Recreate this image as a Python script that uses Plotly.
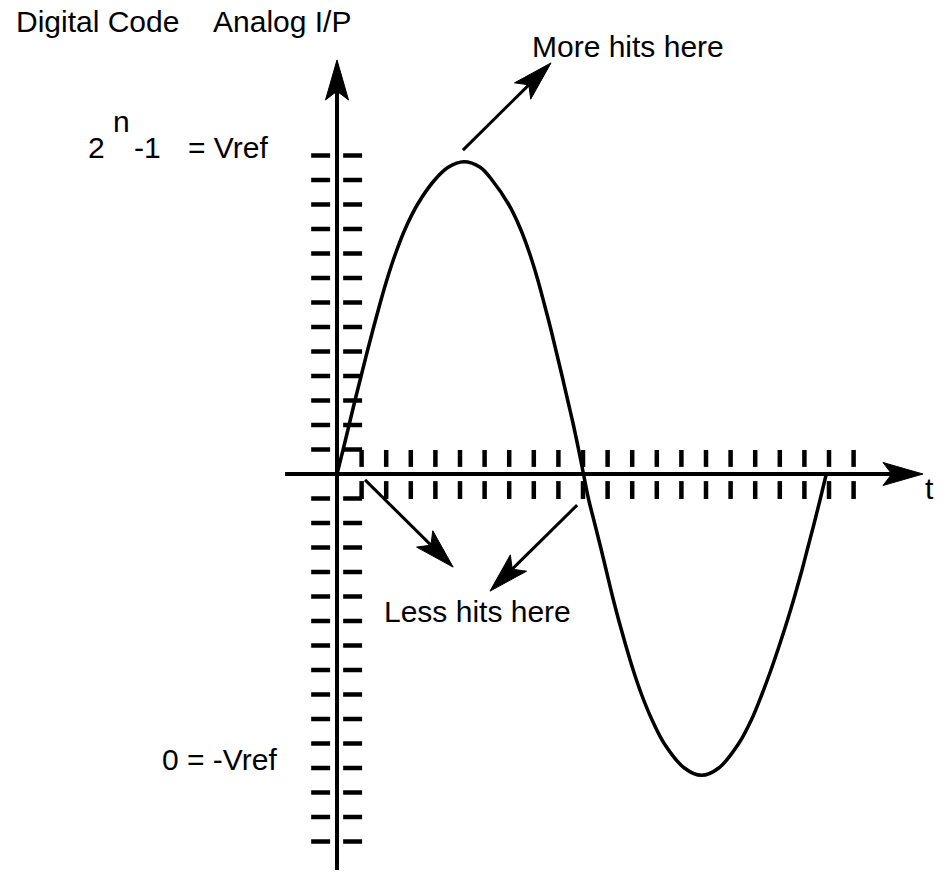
import plotly.graph_objects as go

# analog input: t in sample steps, level in code steps
t_points = [0, 0.25, 0.49, 0.73, 0.98, 1.23, 1.49, 1.76, 2.05, 2.38, 2.77, 3.27, 3.97, 4.52, 5.15,
            5.82, 6.30, 6.98, 7.46, 7.83, 8.14, 8.41, 8.67, 8.91, 9.15, 9.38, 9.61, 9.82, 10.02,
            10.22, 10.47, 10.72, 10.96, 11.20, 11.46, 11.74, 12.04, 12.38, 12.79, 13.30, 14.12, 14.82,
            15.52, 16.33, 16.86, 17.27, 17.64, 17.98, 18.30, 18.60, 18.88, 19.14, 19.40, 19.65, 19.89]
level_points = [0, 1, 2, 3, 4, 5, 6, 7, 8, 9, 10, 11, 12, 12.52, 12.75,
                12.52, 12, 11, 10, 9, 8, 7, 6, 5, 4, 3, 2, 1, 0,
                -1, -2, -3, -4, -5, -6, -7, -8, -9, -10, -11, -12, -12.3,
                -12, -11, -10, -9, -8, -7, -6, -5, -4, -3, -2, -1, 0]

# sample instants on the t axis and code levels on the vertical axis
sample_ticks = list(range(1, 22))
code_levels = list(range(-15, 0)) + list(range(1, 14))

# pixels per step, used to keep arrow heads in shape
PX_X = 24.6
PX_Y = 24.5

fig = go.Figure()

# sample dashes across the t axis
tx, ty = [], []
for k in sample_ticks:
    tx += [k, k, None, k, k, None]
    ty += [0.29, 0.98, None, -0.29, -1.02, None]
fig.add_trace(go.Scatter(x=tx, y=ty, mode="lines", line=dict(color="black", width=4.5), hoverinfo="skip"))

# code level dashes either side of the vertical axis
cx, cy = [], []
for lv in code_levels:
    cx += [-1.05, -0.28, None, 0.25, 1.02, None]
    cy += [lv, lv, None, lv, lv, None]
fig.add_trace(go.Scatter(x=cx, y=cy, mode="lines", line=dict(color="black", width=4.5), hoverinfo="skip"))

# the analog signal
fig.add_trace(go.Scatter(x=t_points, y=level_points, mode="lines",
                         line=dict(color="black", width=3.5, shape="spline", smoothing=1.0),
                         hoverinfo="skip"))


def arrow(x0, y0, x1, y1, width, head_len=40, head_w=23):
    # head built in pixel space so it does not get squashed
    dx = (x1 - x0) * PX_X
    dy = (y1 - y0) * PX_Y
    d = (dx ** 2 + dy ** 2) ** 0.5
    ux, uy = dx / d, dy / d
    nx, ny = -uy, ux

    def pt(a, b):
        return x1 + (ux * a + nx * b) / PX_X, y1 + (uy * a + ny * b) / PX_Y

    notch = pt(-0.78 * head_len, 0)
    fig.add_trace(go.Scatter(x=[x0, notch[0]], y=[y0, notch[1]], mode="lines",
                             line=dict(color="black", width=width), hoverinfo="skip"))
    pts = [pt(0, 0), pt(-head_len, head_w / 2), notch, pt(-head_len, -head_w / 2), pt(0, 0)]
    fig.add_trace(go.Scatter(x=[p[0] for p in pts], y=[p[1] for p in pts], mode="lines", fill="toself",
                             fillcolor="black", line=dict(color="black", width=1), hoverinfo="skip"))


# axes
arrow(-2.11, 0, 23.82, 0, 4)
arrow(0, -16.16, 0, 16.9, 4)
# pointers
arrow(5.12, 13.22, 8.70, 16.78, 3)
arrow(1.14, -0.24, 4.72, -3.80, 3)
arrow(9.76, -1.27, 6.22, -4.78, 3)

labels = [
    ("Digital Code", -9.72, 18.45),
    ("Analog I/P", -2.24, 18.45),
    ("2", -9.76, 13.31),
    ("n", -8.78, 14.37),
    ("-1", -7.72, 13.31),
    ("= Vref", -4.43, 13.31),
    ("0 = -Vref", -4.76, -11.67),
    ("More hits here", 11.83, 17.43),
    ("Less hits here", 5.73, -5.63),
    ("t", 24.07, -0.61),
]
for text, x, y in labels:
    fig.add_annotation(x=x, y=y, text=text, showarrow=False, xref="x", yref="y",
                       xanchor="center", yanchor="middle",
                       font=dict(family="Liberation Sans, Arial, sans-serif", size=30, color="black"))

fig.update_layout(
    width=950,
    height=884,
    margin=dict(l=0, r=0, t=0, b=0),
    showlegend=False,
    plot_bgcolor="white",
    paper_bgcolor="white",
    xaxis=dict(visible=False, range=[-337 / PX_X, (950 - 337) / PX_X], fixedrange=True),
    yaxis=dict(visible=False, range=[(474 - 884) / PX_Y, 474 / PX_Y], fixedrange=True),
)

fig.write_html("out.html", config={"displayModeBar": False},
               post_script="document.body.style.margin='0';")
